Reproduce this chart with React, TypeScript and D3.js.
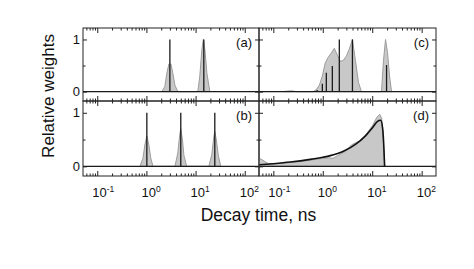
import { useEffect, useRef } from "react";
import * as d3 from "d3";

const decades = [0.1, 1, 10, 100];
const decadeExps = ["-1", "0", "1", "2"];
const minorSteps = [2, 3, 4, 5, 6, 7, 8, 9];
const weightTicks = [0, 1];
const weightMinor = [0.5];
const weightLabels = ["0", "1"];

// (a) two discrete lifetimes
const aStickTau = [3.0, 14.7];
const aStickWeight = [1, 1];
const aFillTau = [2.07, 2.37, 2.6, 2.87, 3.15, 3.45, 3.8, 4.36, 11.1, 12.2, 13.4, 14.4, 15.5, 17.0, 19.5];
const aFillWeight = [0, 0.1, 0.35, 0.53, 0.53, 0.35, 0.12, 0, 0, 0.3, 0.8, 1.0, 0.8, 0.35, 0];

// (b) three discrete lifetimes
const bStickTau = [1.02, 5.0, 24.6];
const bStickWeight = [1, 1, 1];
const bFillTau = [0.74, 0.85, 0.93, 1.02, 1.12, 1.23, 1.36, 3.8, 4.35, 4.77, 5.0, 5.4, 5.8, 6.6, 18.6, 21.4, 23.5, 24.6, 26.4, 29, 32.6];
const bFillWeight = [0, 0.15, 0.4, 0.57, 0.4, 0.15, 0, 0, 0.25, 0.6, 0.7, 0.5, 0.2, 0, 0, 0.22, 0.55, 0.65, 0.5, 0.2, 0];

// (c) cluster of lifetimes
const cStickTau = [0.77, 0.98, 1.18, 1.56, 2.16, 3.98, 19.5];
const cStickWeight = [0.03, 0.15, 0.36, 0.49, 1.0, 1.0, 0.51];
const cFillTau = [0.15, 0.2, 0.22, 0.25, 0.3, 0.64, 0.74, 0.85, 0.98, 1.12, 1.29, 1.49, 1.71, 1.97, 2.27, 2.61, 3.0, 3.45, 3.98, 4.57, 5.26, 6.05, 15.4, 16.9, 18.6, 20.4, 22.4, 24.6];
const cFillWeight = [0, 0.01, 0.015, 0.01, 0, 0, 0.04, 0.12, 0.3, 0.55, 0.66, 0.74, 0.83, 0.7, 0.58, 0.6, 0.68, 0.82, 1.0, 0.6, 0.18, 0, 0, 0.6, 1.0, 0.75, 0.3, 0];

// (d) continuous distribution
const dCurveTau = [0.052, 0.1, 0.22, 0.557, 1.0, 1.42, 2.0, 2.87, 4.57, 7.3, 10.1, 12.8, 14.8, 16.2, 17.3, 17.8];
const dCurveWeight = [0.03, 0.05, 0.08, 0.13, 0.17, 0.2, 0.24, 0.3, 0.41, 0.57, 0.72, 0.84, 0.86, 0.72, 0.3, 0];
const dFillTau = [0.052, 0.06, 0.07, 0.08, 0.12, 0.22, 0.5, 1.0, 1.3, 1.6, 2.0, 2.87, 3.8, 4.6, 5.5, 7.3, 10.1, 12.5, 14.2, 15.5, 16.5, 17.5, 18.0];
const dFillWeight = [0.15, 0.12, 0.08, 0.05, 0.05, 0.07, 0.11, 0.15, 0.16, 0.15, 0.2, 0.28, 0.4, 0.44, 0.47, 0.58, 0.76, 0.92, 0.97, 0.9, 0.6, 0.15, 0];

const font = "'Liberation Sans', Arial, Helvetica, sans-serif";

export default function App() {
  const ref = useRef<SVGSVGElement>(null);

  useEffect(() => {
    const svg = d3.select(ref.current);
    svg.selectAll("*").remove();

    const cols = [
      [83, 259],
      [259, 436],
    ];
    const rows = [
      [28, 101],
      [101, 176],
    ];
    const minor: number[] = [];
    for (const d of [0.01, 0.1, 1, 10, 100]) for (const m of minorSteps) minor.push(d * m);

    const panels = [
      { col: 0, row: 0, label: "(a)", fillT: aFillTau, fillW: aFillWeight, stickT: aStickTau, stickW: aStickWeight },
      { col: 0, row: 1, label: "(b)", fillT: bFillTau, fillW: bFillWeight, stickT: bStickTau, stickW: bStickWeight },
      { col: 1, row: 0, label: "(c)", fillT: cFillTau, fillW: cFillWeight, stickT: cStickTau, stickW: cStickWeight },
      { col: 1, row: 1, label: "(d)", fillT: dFillTau, fillW: dFillWeight, curveT: dCurveTau, curveW: dCurveWeight },
    ];

    panels.forEach((p: any) => {
      const [x0, x1] = cols[p.col];
      const [yt, yb] = rows[p.row];
      const x = d3.scaleLog().domain([Math.pow(10, -1.29), Math.pow(10, 2.29)]).range([x0, x1]);
      const y = d3.scaleLinear().domain([-0.18, 1.22]).range([yb, yt]);
      const g = svg.append("g");
      const xMinor = minor.filter((v) => v > x.domain()[0] && v < x.domain()[1]);

      // gray distribution
      const fill = p.fillT.map((t: number, i: number) => [t, p.fillW[i]]);
      g.append("path")
        .datum(fill)
        .attr("fill", "#c8c8c8")
        .attr("stroke", "#9c9c9c")
        .attr("stroke-width", 1)
        .attr(
          "d",
          d3
            .area<number[]>()
            .x((d) => x(d[0]))
            .y0(y(0))
            .y1((d) => y(d[1]))
        );

      // zero line
      g.append("line")
        .attr("x1", x0)
        .attr("x2", x1)
        .attr("y1", y(0))
        .attr("y2", y(0))
        .attr("stroke", "#1a1a1a")
        .attr("stroke-width", 1.2);

      if (p.stickT) {
        g.selectAll(".stick")
          .data(p.stickT.map((t: number, i: number) => [t, p.stickW[i]]))
          .enter()
          .append("line")
          .attr("x1", (d: any) => x(d[0]))
          .attr("x2", (d: any) => x(d[0]))
          .attr("y1", y(0))
          .attr("y2", (d: any) => y(d[1]))
          .attr("stroke", "#1a1a1a")
          .attr("stroke-width", 1.3);
      }
      if (p.curveT) {
        g.append("path")
          .datum(p.curveT.map((t: number, i: number) => [t, p.curveW[i]]))
          .attr("fill", "none")
          .attr("stroke", "#111")
          .attr("stroke-width", 1.6)
          .attr(
            "d",
            d3
              .line<number[]>()
              .x((d) => x(d[0]))
              .y((d) => y(d[1]))
              .curve(d3.curveMonotoneX)
          );
      }

      // ticks, all pointing inwards
      const addAxis = (axis: any, tx: number, ty: number) => {
        const a = g.append("g").attr("transform", `translate(${tx},${ty})`).call(axis);
        a.select(".domain").remove();
        a.selectAll("line").attr("stroke", "#222");
      };
      addAxis(d3.axisBottom(x).tickValues(decades).tickSize(-5).tickFormat(() => ""), 0, yb);
      addAxis(d3.axisBottom(x).tickValues(xMinor).tickSize(-2.5).tickFormat(() => ""), 0, yb);
      addAxis(d3.axisTop(x).tickValues(decades).tickSize(-5).tickFormat(() => ""), 0, yt);
      addAxis(d3.axisTop(x).tickValues(xMinor).tickSize(-2.5).tickFormat(() => ""), 0, yt);
      addAxis(d3.axisLeft(y).tickValues(weightTicks).tickSize(-4).tickFormat(() => ""), x0, 0);
      addAxis(d3.axisLeft(y).tickValues(weightMinor).tickSize(-2.5).tickFormat(() => ""), x0, 0);
      addAxis(d3.axisRight(y).tickValues(weightTicks).tickSize(-4).tickFormat(() => ""), x1, 0);
      addAxis(d3.axisRight(y).tickValues(weightMinor).tickSize(-2.5).tickFormat(() => ""), x1, 0);

      g.append("rect")
        .attr("x", x0)
        .attr("y", yt)
        .attr("width", x1 - x0)
        .attr("height", yb - yt)
        .attr("fill", "none")
        .attr("stroke", "#222")
        .attr("stroke-width", 1);

      g.append("text")
        .attr("x", x1 - 7)
        .attr("y", yt + 19)
        .attr("text-anchor", "end")
        .style("font-family", font)
        .style("font-size", 13)
        .attr("fill", "#111")
        .text(p.label);

      if (p.col === 0) {
        weightTicks.forEach((v, i) => {
          g.append("text")
            .attr("x", x0 - 3)
            .attr("y", y(v))
            .attr("dy", "0.36em")
            .attr("text-anchor", "end")
            .style("font-family", font)
            .style("font-size", 13)
            .attr("fill", "#111")
            .text(weightLabels[i]);
        });
      }
      if (p.row === 1) {
        decades.forEach((v, i) => {
          const t = g
            .append("text")
            .attr("x", x(v) - 5)
            .attr("y", yb + 21)
            .style("font-family", font)
            .style("font-size", 13)
            .attr("fill", "#111");
          t.append("tspan").text("10");
          t.append("tspan").attr("dy", -5).style("font-size", 8.5).text(decadeExps[i]);
        });
      }
    });

    svg
      .append("text")
      .attr("transform", "translate(54,96) rotate(-90)")
      .attr("text-anchor", "middle")
      .style("font-family", font)
      .style("font-size", 17)
      .attr("fill", "#111")
      .text("Relative weights");

    svg
      .append("text")
      .attr("x", 258.5)
      .attr("y", 221)
      .attr("text-anchor", "middle")
      .style("font-family", font)
      .style("font-size", 17.5)
      .attr("fill", "#111")
      .text("Decay time, ns");
  }, []);

  return (
    <svg
      ref={ref}
      width={474}
      height={269}
      style={{ position: "absolute", left: 0, top: 0, background: "#fff" }}
    />
  );
}
